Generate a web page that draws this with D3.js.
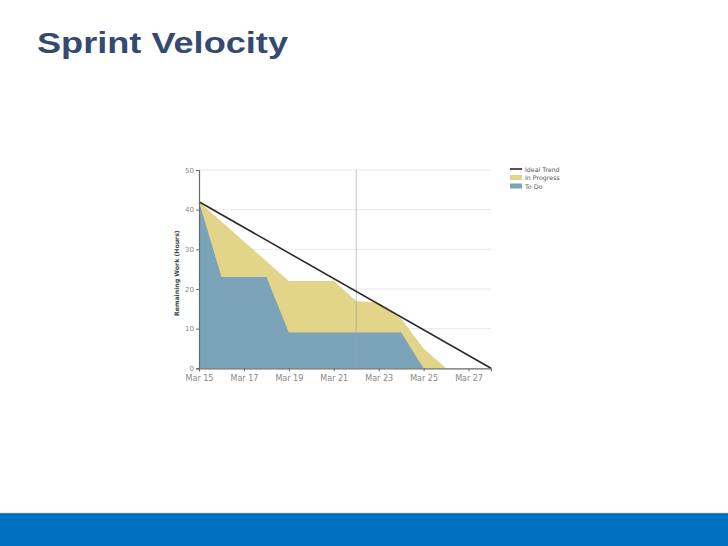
<!DOCTYPE html>
<html>
<head>
<meta charset="utf-8">
<script src="https://cdn.jsdelivr.net/npm/d3@7"></script>
<style>
  html, body { margin: 0; padding: 0; background: #fff; }
  svg { display: block; }
</style>
</head>
<body>
<svg id="chart" width="728" height="546"></svg>
<script>
// ---- data ----
const dates = ["2013-03-15","2013-03-16","2013-03-17","2013-03-18","2013-03-19","2013-03-20",
               "2013-03-21","2013-03-22","2013-03-23","2013-03-24","2013-03-25","2013-03-26"];
const toDo       = [42, 23, 23, 23, 9, 9, 9, 9, 9, 9, 0, 0];
const inProgress = [0, 14, 9, 4, 13, 13, 13, 8, 7.5, 3.5, 5, 0];
const idealDates = ["2013-03-15", "2013-03-28"];
const idealValues = [42, 0];
const xTickDates = ["2013-03-15","2013-03-17","2013-03-19","2013-03-21","2013-03-23","2013-03-25","2013-03-27"];
const yTicks = [0, 10, 20, 30, 40, 50];
const markerDate = "2013-03-22";
const legendLabels = ["Ideal Trend", "In Progress", "To Do"];
const title = "Sprint Velocity";
const yTitle = "Remaining Work (Hours)";

// ---- layout ----
const svg = d3.select("#chart");
const parse = d3.utcParse("%Y-%m-%d");
const pLeft = 199, pRight = 491, pTop = 170, pBottom = 368.3;

const x = d3.scaleUtc().domain([parse("2013-03-15"), parse("2013-03-28")]).range([pLeft, pRight]);
const y = d3.scaleLinear().domain([0, 50]).range([pBottom, pTop]);

// title
svg.append("text").attr("x", 37).attr("y", 53.3)
  .attr("font-family", "Liberation Sans, Arial, sans-serif").attr("font-weight", "bold")
  .attr("font-size", 30).attr("fill", "#354a72")
  .attr("textLength", 251).attr("lengthAdjust", "spacingAndGlyphs").text(title);

// bottom bar
svg.append("rect").attr("x", 0).attr("y", 512.5).attr("width", 728).attr("height", 1.2).attr("fill", "#bfe3f2");
svg.append("rect").attr("x", 0).attr("y", 513.5).attr("width", 728).attr("height", 33).attr("fill", "#0070c0");
svg.append("rect").attr("x", 0).attr("y", 513.5).attr("width", 728).attr("height", 1.2).attr("fill", "#1a5f9e");

// grid
svg.append("g").selectAll("line").data(yTicks.filter(d => d > 0)).join("line")
  .attr("x1", pLeft).attr("x2", pRight).attr("y1", d => y(d)).attr("y2", d => y(d))
  .attr("stroke", "#e8e8e8").attr("stroke-width", 1);

const rows = dates.map((d, i) => ({ date: parse(d), toDo: toDo[i], total: toDo[i] + inProgress[i] }));

// areas
svg.append("path").datum(rows)
  .attr("d", d3.area().x(d => x(d.date)).y0(y(0)).y1(d => y(d.total)))
  .attr("fill", "#e2d488");
svg.append("path").datum(rows)
  .attr("d", d3.area().x(d => x(d.date)).y0(y(0)).y1(d => y(d.toDo)))
  .attr("fill", "#7ba3b9");

// marker line
svg.append("line").attr("x1", x(parse(markerDate))).attr("x2", x(parse(markerDate)))
  .attr("y1", pTop).attr("y2", pBottom).attr("stroke", "#9aa6ad").attr("stroke-width", 0.8).attr("opacity", 0.8);

// ideal line
svg.append("path").datum(idealDates.map((d, i) => ({ date: parse(d), v: idealValues[i] })))
  .attr("d", d3.line().x(d => x(d.date)).y(d => y(d.v)))
  .attr("fill", "none").attr("stroke", "#2b2b2b").attr("stroke-width", 1.6);

// axes
const fmt = d3.utcFormat("%b %-d");
const xAxis = svg.append("g").attr("transform", `translate(0,${pBottom})`)
  .call(d3.axisBottom(x).tickValues(xTickDates.map(parse)).tickFormat(fmt).tickSize(3).tickPadding(4));
const yAxis = svg.append("g").attr("transform", `translate(${pLeft},0)`)
  .call(d3.axisLeft(y).tickValues(yTicks).tickSize(3).tickPadding(2));
[xAxis, yAxis].forEach(g => {
  g.select(".domain").attr("stroke", "#6b6b6b").attr("stroke-width", 1.2);
  g.selectAll(".tick line").attr("stroke", "#6b6b6b");
  g.selectAll("text").attr("fill", "#888").attr("font-size", 8)
    .attr("font-family", "DejaVu Sans, sans-serif");
});
yAxis.selectAll(".tick text").attr("font-size", 7);

// y title
svg.append("text").attr("transform", `translate(179,${(pTop + pBottom) / 2 + 4}) rotate(-90)`)
  .attr("text-anchor", "middle").attr("font-family", "DejaVu Sans, sans-serif")
  .attr("font-size", 6.2).attr("font-weight", "bold").attr("fill", "#444").text(yTitle);

// legend
const lg = svg.append("g").attr("transform", "translate(510,169)");
lg.append("line").attr("x1", 0).attr("x2", 12).attr("y1", 0).attr("y2", 0).attr("stroke", "#2b2b2b").attr("stroke-width", 1.6);
lg.append("rect").attr("x", 0).attr("y", 6).attr("width", 12).attr("height", 5).attr("fill", "#e2d488");
lg.append("rect").attr("x", 0).attr("y", 14.5).attr("width", 12).attr("height", 5).attr("fill", "#7ba3b9");
lg.selectAll("text").data(legendLabels).join("text")
  .attr("x", 15).attr("y", (d, i) => 2.5 + i * 8.7)
  .attr("font-family", "DejaVu Sans, sans-serif").attr("font-size", 6.3).attr("fill", "#555").text(d => d);
</script>
</body>
</html>
